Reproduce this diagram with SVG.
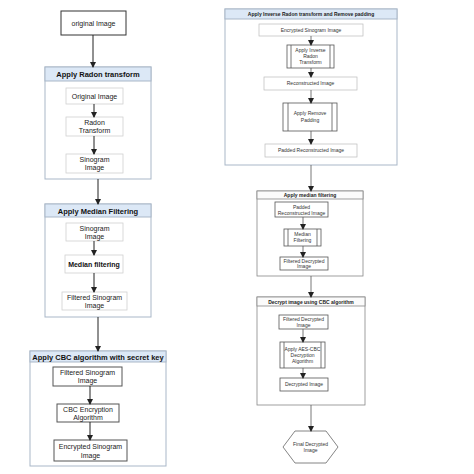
<svg xmlns="http://www.w3.org/2000/svg" width="474" height="474" viewBox="0 0 474 474">
<defs>
<marker id="ah" markerWidth="6" markerHeight="6" refX="5" refY="3" orient="auto" markerUnits="userSpaceOnUse">
<path d="M0,0 L6,3 L0,6 Z" fill="#222"/>
</marker>
<style>
.grp{fill:#fff;stroke:#a9b7c8;stroke-width:1}
.hdr{fill:#dce8f6;stroke:#a9b7c8;stroke-width:1}
.hdrw{fill:#fbfbfb;stroke:#888;stroke-width:0.8}
.grpd{fill:#fff;stroke:#888;stroke-width:0.8}
.box{fill:#fff;stroke:#d0d0d0;stroke-width:0.8}
.boxd{fill:#fff;stroke:#555;stroke-width:1}
.boxr{fill:#fff;stroke:#bbb;stroke-width:0.7}
.sub{fill:#fff;stroke:#555;stroke-width:0.8}
.t{font-family:"Liberation Sans",Arial,sans-serif;font-size:7px;fill:#222;text-anchor:middle}
.th{font-family:"Liberation Sans",Arial,sans-serif;font-size:7.5px;font-weight:bold;fill:#111;text-anchor:middle}
.ts{font-family:"Liberation Sans",Arial,sans-serif;font-size:5px;fill:#333;text-anchor:middle}
.tsh{font-family:"Liberation Sans",Arial,sans-serif;font-size:5px;font-weight:bold;fill:#222;text-anchor:middle}
.c{stroke:#222;stroke-width:1;fill:none;marker-end:url(#ah)}
.cg{stroke:#555;stroke-width:0.8;fill:none;marker-end:url(#ah)}
</style>
</defs>
<rect width="474" height="474" fill="#fff"/>

<g id="n-original">
<rect x="61" y="11" width="65" height="24" fill="#fff" stroke="#333" stroke-width="1"/>
<text class="t" x="93.5" y="25.5">original Image</text>
</g>

<g id="g-radon">
<rect class="grp" x="45" y="67" width="106" height="112"/>
<rect class="hdr" x="45" y="67" width="106" height="14"/>
<text class="th" x="98" y="77">Apply Radon transform</text>
</g>
<g id="n-orig2"><rect class="box" x="66" y="88" width="57" height="16"/><text class="t" x="94.5" y="98.5">Original Image</text></g>
<g id="n-radon"><rect class="box" x="66" y="117" width="57" height="19"/><text class="t" x="94.5" y="125">Radon</text><text class="t" x="94.5" y="133">Transform</text></g>
<g id="n-sino"><rect class="box" x="66" y="154" width="57" height="19"/><text class="t" x="94.5" y="162">Sinogram</text><text class="t" x="94.5" y="170">Image</text></g>

<g id="g-median">
<rect class="grp" x="45" y="204" width="106" height="113"/>
<rect class="hdr" x="45" y="204" width="106" height="13"/>
<text class="th" x="98" y="213.5">Apply Median Filtering</text>
</g>
<g id="n-sino2"><rect class="box" x="66" y="223" width="57" height="18"/><text class="t" x="94.5" y="231">Sinogram</text><text class="t" x="94.5" y="238.5">Image</text></g>
<g id="n-medf"><rect class="box" x="65" y="255" width="58" height="18"/><text class="th" style="font-size:7px" x="94" y="266.5">Median filtering</text></g>
<g id="n-filt"><rect class="box" x="62" y="292" width="65" height="18"/><text class="t" x="94.5" y="300">Filtered Sinogram</text><text class="t" x="94.5" y="307.5">Image</text></g>

<g id="g-cbc">
<rect class="grp" x="30" y="351" width="136" height="115"/>
<rect class="hdr" x="30" y="351" width="136" height="11"/>
<text class="th" x="98" y="359.5">Apply CBC algorithm with secret key</text>
</g>
<g id="n-filt2"><rect class="boxd" x="53" y="367" width="69" height="19"/><text class="t" x="87.5" y="375">Filtered Sinogram</text><text class="t" x="87.5" y="383">Image</text></g>
<g id="n-cbcenc"><rect class="boxd" x="57" y="404" width="62" height="18"/><text class="t" x="88" y="412">CBC Encryption</text><text class="t" x="88" y="420">Algorithm</text></g>
<g id="n-encs"><rect class="boxd" x="54" y="440" width="73" height="21"/><text class="t" x="90.5" y="449">Encrypted Sinogram</text><text class="t" x="90.5" y="457.5">Image</text></g>

<g id="g-inverse">
<rect class="grp" x="225" y="9" width="172" height="156"/>
<rect class="hdr" x="225" y="9" width="172" height="10"/>
<text class="tsh" x="311" y="16">Apply Inverse Radon transform and Remove padding</text>
</g>
<g id="n-encs2"><rect class="boxr" x="259" y="24" width="104" height="12"/><text class="ts" x="311" y="31.8">Encrypted Sinogram Image</text></g>
<g id="n-invradon"><rect class="sub" x="287" y="45" width="47" height="23"/><line x1="291" y1="45" x2="291" y2="68" stroke="#555" stroke-width="0.8"/><line x1="330" y1="45" x2="330" y2="68" stroke="#555" stroke-width="0.8"/><text class="ts" x="310.5" y="52">Apply Inverse</text><text class="ts" x="310.5" y="58">Radon</text><text class="ts" x="310.5" y="64">Transform</text></g>
<g id="n-recon"><rect class="boxr" x="264" y="77" width="93" height="13"/><text class="ts" x="310.5" y="85.3">Reconstructed Image</text></g>
<g id="n-rmpad"><rect class="sub" x="283" y="103" width="54" height="28"/><line x1="288" y1="103" x2="288" y2="131" stroke="#555" stroke-width="0.8"/><line x1="332" y1="103" x2="332" y2="131" stroke="#555" stroke-width="0.8"/><text class="ts" x="310" y="115">Apply Remove</text><text class="ts" x="310" y="122">Padding</text></g>
<g id="n-padrec"><rect class="boxr" x="265" y="144" width="92" height="13"/><text class="ts" x="311" y="152.3">Padded Reconstructed Image</text></g>

<g id="g-median2">
<rect class="grpd" x="257" y="191" width="106" height="85"/>
<rect class="hdrw" x="257" y="191" width="106" height="8"/>
<text class="tsh" x="310" y="197">Apply median filtering</text>
</g>
<g id="n-padrec2"><rect class="sub" x="275" y="202" width="53" height="15"/><text class="ts" x="301.5" y="208.5">Padded</text><text class="ts" x="301.5" y="214.5">Reconstructed Image</text></g>
<g id="n-medf2"><rect class="sub" x="284" y="229" width="37" height="17"/><line x1="288" y1="229" x2="288" y2="246" stroke="#555" stroke-width="0.8"/><line x1="317" y1="229" x2="317" y2="246" stroke="#555" stroke-width="0.8"/><text class="ts" x="302.5" y="236">Median</text><text class="ts" x="302.5" y="242">Filtering</text></g>
<g id="n-filtdec"><rect class="sub" x="280" y="257" width="48" height="13"/><text class="ts" x="304" y="262.5">Filtered Decrypted</text><text class="ts" x="304" y="268">Image</text></g>

<g id="g-decrypt">
<rect class="grpd" x="257" y="297" width="108" height="108"/>
<rect class="hdrw" x="257" y="297" width="108" height="9"/>
<text class="tsh" x="311" y="303.5">Decrypt image using CBC algorithm</text>
</g>
<g id="n-filtdec2"><rect class="sub" x="279" y="315" width="49" height="14"/><text class="ts" x="303.5" y="321">Filtered Decrypted</text><text class="ts" x="303.5" y="327">Image</text></g>
<g id="n-aes"><rect class="sub" x="280" y="342" width="45" height="26"/><line x1="284" y1="342" x2="284" y2="368" stroke="#555" stroke-width="0.8"/><line x1="321" y1="342" x2="321" y2="368" stroke="#555" stroke-width="0.8"/><text class="ts" x="302.5" y="351">Apply AES-CBC</text><text class="ts" x="302.5" y="357">Decryption</text><text class="ts" x="302.5" y="363">Algorithm</text></g>
<g id="n-dec"><rect class="sub" x="280" y="378" width="48" height="13"/><text class="ts" x="304" y="386.3">Decrypted Image</text></g>

<g id="n-final">
<polygon points="283,447 295,431 326,431 338,447 326,463 295,463" fill="#fff" stroke="#666" stroke-width="0.8"/>
<text class="ts" x="310.5" y="446">Final Decrypted</text>
<text class="ts" x="310.5" y="452">Image</text>
</g>

<g id="connectors">
<line class="c" x1="93" y1="35" x2="93" y2="67"/>
<line class="c" x1="94" y1="104" x2="94" y2="117"/>
<line class="c" x1="94" y1="136" x2="94" y2="154"/>
<line class="c" x1="98" y1="179" x2="98" y2="204"/>
<line class="c" x1="94" y1="241" x2="94" y2="255"/>
<line class="c" x1="94" y1="273" x2="94" y2="292"/>
<line class="c" x1="98" y1="317" x2="98" y2="351"/>
<line class="c" x1="90" y1="386" x2="90" y2="404"/>
<line class="c" x1="90" y1="422" x2="90" y2="440"/>

<line class="cg" x1="311" y1="36" x2="311" y2="45"/>
<line class="cg" x1="311" y1="68" x2="311" y2="77"/>
<line class="cg" x1="311" y1="90" x2="311" y2="103"/>
<line class="cg" x1="311" y1="131" x2="311" y2="144"/>
<line class="cg" x1="311" y1="165" x2="311" y2="191"/>
<line class="cg" x1="303" y1="217" x2="303" y2="229"/>
<line class="cg" x1="303" y1="246" x2="303" y2="257"/>
<line class="cg" x1="311" y1="276" x2="311" y2="297"/>
<line class="cg" x1="303" y1="329" x2="303" y2="342"/>
<line class="cg" x1="303" y1="368" x2="303" y2="378"/>
<line class="cg" x1="311" y1="405" x2="311" y2="431"/>
</g>
</svg>
